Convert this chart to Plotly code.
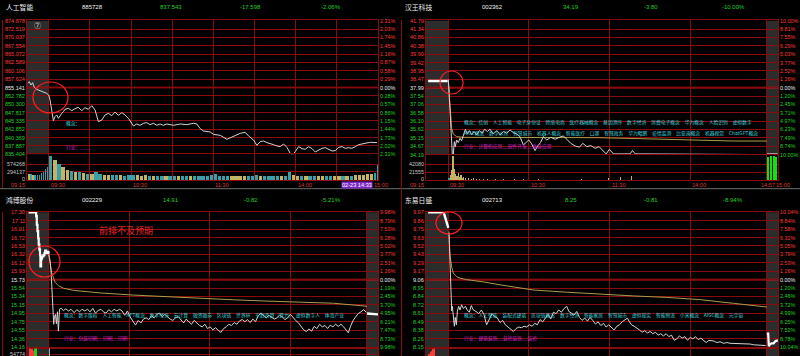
import numpy as np
import plotly.graph_objects as go

W, H = 800, 356

# ---------------- data ----------------
tl_head = ["人工智能", "885728", "837.543", "-17.598", "-2.06%"]
tr_head = ["汉王科技", "002362", "34.19", "-3.80", "-10.00%"]
bl_head = ["鸿博股份", "002229", "14.91", "-0.82", "-5.21%"]
br_head = ["东易日盛", "002713", "8.25", "-0.81", "-8.94%"]

tl_left = ["874.878", "872.519", "870.037", "867.554", "865.072", "862.589", "860.106", "857.624", "855.141",
           "852.782", "850.300", "847.817", "845.335", "842.852", "840.369", "837.887", "835.404"]
tl_right = ["2.31%", "2.03%", "1.74%", "1.45%", "1.16%", "0.87%", "0.58%", "0.29%", "0.00%",
            "0.28%", "0.57%", "0.86%", "1.15%", "1.44%", "1.73%", "2.02%", "2.31%"]
tr_left = ["41.79", "41.34", "40.86", "40.38", "39.90", "39.42", "38.95", "38.47", "37.99",
           "37.54", "37.06", "36.58", "36.10", "35.62", "35.15", "34.67", "34.19"]
tr_right = ["10.00%", "8.81%", "7.55%", "6.29%", "5.03%", "3.77%", "2.52%", "1.26%", "0.00%",
            "1.20%", "2.45%", "3.71%", "4.97%", "6.23%", "7.49%", "8.74%", "10.00%"]
bl_left = ["17.30", "17.11", "16.91", "16.72", "16.53", "16.32", "16.12", "15.93", "15.73",
           "15.54", "15.34", "15.15", "14.95", "14.75", "14.55", "14.36", "14.16"]
bl_right = ["9.98%", "8.79%", "7.53%", "6.28%", "5.02%", "3.77%", "2.51%", "1.26%", "0.00%",
            "1.19%", "2.45%", "3.70%", "4.95%", "6.21%", "7.47%", "8.73%", "9.98%"]
br_left = ["9.97", "9.86", "9.75", "9.63", "9.52", "9.43", "9.29", "9.17", "9.06",
           "8.95", "8.84", "8.72", "8.61", "8.49", "8.38", "8.26", "8.15"]
br_right = ["10.04%", "8.84%", "7.58%", "6.32%", "5.05%", "3.79%", "2.53%", "1.26%", "0.00%",
            "1.20%", "2.46%", "3.72%", "4.99%", "6.25%", "7.52%", "8.78%", "10.04%"]

# minute index: 0 = 09:15, 15 = 09:30, 135 = 11:30/13:00, 255 = 15:00 (252 = 14:57)
tl_line = [(0.0, 856.37), (0.9, 856.86), (2.1, 855.88), (3.3, 856.57), (4.5, 855.19), (6.2, 854.60), (8.7, 854.20),
           (11.1, 853.81), (13.5, 853.42), (15.0, 852.92), (16.0, 851.45), (17.2, 848.50), (18.4, 845.35),
           (19.6, 846.53), (20.8, 847.02), (22.1, 846.03), (23.3, 847.02), (24.5, 847.51), (25.7, 848.00),
           (26.9, 848.69), (29.3, 848.99), (31.8, 848.30), (34.2, 848.89), (36.6, 849.28), (39.1, 848.30),
           (41.5, 849.19), (43.9, 848.69), (46.4, 849.77), (48.8, 848.50), (51.2, 845.05), (53.7, 845.54),
           (56.1, 847.02), (58.5, 847.51), (61.0, 846.82), (63.4, 847.90), (65.8, 846.92), (68.3, 847.71),
           (70.7, 847.02), (73.1, 846.03), (75.5, 844.56), (76.8, 843.77), (79.2, 844.36), (81.6, 843.97),
           (84.1, 844.56), (86.5, 844.75), (88.9, 844.16), (91.4, 844.56), (93.8, 843.97), (96.2, 844.36),
           (98.6, 843.97), (101.1, 844.36), (105.9, 843.97), (110.8, 844.36), (115.7, 844.16), (120.5, 844.56),
           (123.0, 844.36), (125.4, 842.99), (127.8, 842.29), (132.7, 842.00), (135.1, 841.31), (140.0, 841.01),
           (144.9, 839.83), (147.3, 840.23), (149.7, 840.82), (152.1, 841.21), (154.6, 841.61), (158.2, 841.90),
           (160.7, 840.82), (164.3, 839.63), (166.7, 838.06), (169.2, 839.14), (171.6, 839.34), (174.0, 838.85),
           (176.5, 838.65), (178.9, 838.25), (181.3, 837.86), (183.8, 837.67), (186.2, 838.45), (188.6, 837.47),
           (191.0, 835.70), (192.8, 835.21), (194.7, 836.19), (197.1, 837.67), (199.6, 837.07), (202.0, 836.88),
           (204.4, 837.67), (206.9, 837.07), (209.3, 836.09), (211.7, 836.68), (214.2, 837.17), (216.6, 837.37),
           (219.0, 836.78), (221.5, 836.38), (223.9, 836.48), (226.3, 837.47), (228.8, 837.67), (231.2, 837.17),
           (233.6, 837.37), (236.0, 837.17), (238.5, 837.67), (240.9, 838.25), (243.3, 838.45), (245.8, 838.65),
           (249.4, 838.95), (254.3, 838.85)]
tl_vol = [(0.75, 215000), (2.25, 226000), (3.75, 204000), (5.25, 190000), (6.75, 190000), (8.25, 204000),
          (9.75, 240000), (11.25, 287000), (12.75, 383000), (14.25, 478000),
          (16.5, 873000), (19.5, 718000), (22.5, 574000), (25.5, 455000), (28.5, 359000), (31.5, 335000),
          (34.5, 299000), (37.5, 287000), (40.5, 263000), (43.5, 239000), (46.5, 215000), (49.5, 275000),
          (52.5, 215000), (55.5, 191000), (58.5, 203000), (61.5, 191000), (64.5, 179000), (67.5, 191000),
          (70.5, 167000), (73.5, 191000), (76.5, 203000), (79.5, 180000), (82.5, 168000), (85.5, 180000),
          (88.5, 155000), (91.5, 168000), (94.5, 156000), (97.5, 168000), (100.5, 144000), (103.5, 156000),
          (106.5, 144000), (109.5, 156000), (112.5, 144000), (115.5, 156000), (118.5, 144000), (121.5, 144000),
          (124.5, 156000), (127.5, 144000), (130.5, 156000), (133.5, 180000), (136.5, 239000), (139.5, 156000),
          (142.5, 144000), (145.5, 156000), (148.5, 144000), (151.5, 144000), (154.5, 156000), (157.5, 144000),
          (160.5, 156000), (163.5, 168000), (166.5, 180000), (169.5, 168000), (172.5, 156000), (175.5, 156000),
          (178.5, 144000), (181.5, 156000), (184.5, 144000), (187.5, 156000), (190.5, 275000), (193.5, 191000),
          (196.5, 168000), (199.5, 156000), (202.5, 156000), (205.5, 144000), (208.5, 156000), (211.5, 144000),
          (214.5, 156000), (217.5, 156000), (220.5, 168000), (223.5, 156000), (226.5, 168000), (229.5, 156000),
          (232.5, 168000), (235.5, 168000), (238.5, 180000), (241.5, 191000), (244.5, 203000), (247.5, 215000),
          (250.5, 239000), (253.0, 263000), (254.6, 539000)]
tl_vol_ticks = [294137, 574268]
tl_vol_labels = ["574268", "294137", "0"]

tr_pre = [(0.0, 38.37), (14.5, 38.37)]
tr_line = [(15.0, 38.46), (15.7, 37.29), (16.5, 35.78), (17.2, 34.64), (18.0, 34.19), (18.7, 34.19), (19.5, 34.93),
           (20.2, 34.64), (21.2, 35.02), (22.4, 34.87), (23.7, 35.12), (24.9, 34.98), (26.2, 35.31), (27.7, 35.63),
           (29.1, 35.36), (30.6, 35.55), (32.4, 35.31), (34.1, 35.50), (36.1, 35.31), (38.1, 35.55), (40.1, 35.40),
           (42.0, 35.63), (44.0, 35.50), (46.0, 35.63), (48.5, 35.36), (51.0, 35.55), (53.5, 35.31), (56.0, 35.50),
           (58.4, 35.40), (60.9, 35.59), (63.4, 35.44), (65.9, 35.36), (68.3, 35.21), (70.8, 34.74), (72.8, 34.87),
           (74.8, 35.02), (77.0, 34.80), (79.5, 34.42), (81.5, 34.68), (83.5, 34.87), (85.7, 35.21), (88.2, 35.02),
           (91.2, 35.17), (94.4, 35.06), (97.6, 35.17), (100.6, 35.25), (103.1, 35.06), (106.1, 34.83),
           (109.3, 34.68), (112.5, 34.61), (115.0, 34.83), (118.0, 34.64), (121.0, 34.70), (124.2, 34.55),
           (127.1, 34.64), (129.9, 34.42), (132.4, 34.23), (134.8, 34.49), (137.8, 34.23), (142.8, 34.23),
           (150.2, 34.23), (152.0, 34.42), (154.0, 34.23), (157.7, 34.23), (161.4, 34.23), (163.9, 34.19),
           (251.9, 34.19)]
tr_avg = [(15.0, 38.37), (16.2, 36.72), (17.5, 35.68), (18.7, 35.36), (21.2, 35.21), (26.2, 35.17), (53.5, 35.17),
          (90.7, 35.17), (127.9, 35.15), (165.1, 35.08), (202.3, 35.00), (227.1, 34.96), (251.9, 34.96)]
tr_close = [(252.0, 34.19), (260.1, 34.19)]
tr_limit_down = 34.19
tr_vol = [(2, 600), (5, 800), (8, 700), (11, 900), (14, 1500), (15.5, 6000), (16.5, 14000), (17.5, 26000),
          (18.5, 64000), (19.5, 30000), (20.5, 17000), (21.5, 12000), (22.5, 19000), (23.5, 9000), (24.5, 14000),
          (25.5, 7000), (26.5, 10000), (28, 6000), (30, 5000), (32, 4000), (34, 6000), (36, 3000), (38, 4500),
          (41, 2500), (44, 3500), (47, 2000), (50, 3000), (53, 2000), (56, 2500), (60, 1800), (64, 2200),
          (68, 1500), (71, 4000), (74, 2000), (78, 1500), (82, 2500), (86, 1500), (90, 1800), (95, 1200),
          (100, 1500), (105, 1200), (110, 1500), (114, 3500), (118, 1500), (122, 1200), (126, 1000), (130, 2000),
          (134, 6500), (138, 1200), (143, 8000), (147, 1500), (151.5, 11000), (155, 1000), (160, 800), (170, 600),
          (180, 500), (190, 500), (200, 400), (210, 400), (220, 400), (230, 400), (240, 400), (250, 400)]
tr_close_vol = [(253.0, 61000), (255.0, 64000), (257.0, 63000), (259.0, 62000)]
tr_vol_ticks = [21555, 42080]
tr_vol_labels = ["42080", "21555", "0"]

bl_pre = [(0.0, 17.30), (4.8, 17.30), (5.6, 17.21), (6.1, 17.01), (6.6, 16.86), (7.1, 16.70), (7.5, 16.55),
          (8.0, 16.43), (8.5, 16.30), (8.8, 16.04), (9.3, 16.22), (10.0, 16.27), (11.0, 16.30), (11.8, 16.35),
          (12.3, 16.41), (13.0, 16.35), (13.8, 16.38), (14.8, 16.33)]
bl_line = [(15.0, 16.32), (16.0, 16.16), (16.7, 15.93), (17.2, 15.62), (17.7, 15.15), (18.2, 14.76), (18.7, 14.69),
           (19.2, 14.86), (20.0, 14.92), (20.7, 14.70), (21.5, 14.98), (22.2, 14.53), (23.0, 15.04), (24.2, 15.06),
           (25.9, 15.01), (27.7, 15.05), (29.7, 15.00), (31.6, 15.04), (33.9, 14.96), (35.9, 15.03), (37.9, 14.98),
           (39.8, 15.04), (41.8, 15.00), (43.8, 15.04), (45.8, 14.98), (47.8, 15.06), (49.8, 14.95), (51.8, 15.01),
           (53.8, 15.04), (55.7, 14.98), (57.7, 14.95), (59.7, 15.03), (61.7, 14.98), (63.7, 15.04), (65.7, 15.00),
           (67.7, 15.04), (69.6, 15.00), (71.6, 14.90), (73.6, 15.00), (75.6, 14.86), (77.6, 14.75), (79.6, 14.67),
           (81.6, 14.78), (83.6, 14.72), (85.5, 14.81), (87.5, 14.84), (89.5, 14.80), (91.5, 14.89), (93.5, 14.84),
           (95.5, 14.92), (97.5, 14.95), (99.5, 14.86), (101.4, 14.92), (103.4, 14.86), (105.4, 14.81),
           (107.4, 14.78), (109.4, 14.84), (111.4, 14.87), (113.4, 14.78), (115.4, 14.72), (117.3, 14.81),
           (119.3, 14.75), (121.3, 14.69), (123.3, 14.78), (125.3, 14.72), (127.3, 14.66), (129.3, 14.63),
           (131.3, 14.69), (133.2, 14.59), (135.2, 14.63), (137.2, 14.56), (139.2, 14.61), (141.2, 14.55),
           (143.2, 14.50), (145.2, 14.59), (147.2, 14.63), (149.1, 14.69), (151.1, 14.66), (153.1, 14.73),
           (155.1, 14.69), (157.1, 14.77), (159.1, 14.80), (161.1, 14.75), (163.0, 14.80), (165.0, 14.73),
           (167.0, 14.81), (169.0, 14.75), (171.0, 14.89), (173.0, 14.95), (175.0, 14.90), (177.0, 14.84),
           (178.9, 14.90), (180.9, 14.86), (182.9, 14.81), (184.9, 14.84), (186.9, 14.90), (188.9, 14.86),
           (190.9, 14.80), (192.9, 14.84), (194.8, 14.92), (196.8, 14.86), (198.8, 14.78), (200.8, 14.73),
           (202.8, 14.64), (204.8, 14.56), (206.8, 14.52), (208.8, 14.58), (210.7, 14.53), (212.7, 14.64),
           (214.7, 14.59), (216.7, 14.69), (218.7, 14.63), (220.7, 14.66), (222.7, 14.59), (224.6, 14.67),
           (226.6, 14.63), (228.6, 14.69), (230.6, 14.64), (232.6, 14.69), (234.6, 14.63), (236.6, 14.56),
           (238.1, 14.49), (239.6, 14.63), (241.5, 14.77), (243.5, 14.86), (245.5, 14.94), (247.5, 14.98),
           (249.5, 15.03), (251.5, 14.97)]
bl_avg = [(15.0, 16.32), (16.0, 16.12), (17.2, 15.89), (18.5, 15.77), (19.7, 15.67), (22.2, 15.59), (25.9, 15.53),
          (33.4, 15.48), (53.3, 15.42), (78.1, 15.37), (102.9, 15.33), (127.8, 15.29), (152.6, 15.26),
          (177.5, 15.23), (202.3, 15.21), (227.1, 15.18), (252.0, 15.11)]
bl_close = [(252.0, 14.94), (260.2, 14.92)]
bl_vol = [(0.5, 75000, 1), (1.5, 72000, 1), (2.5, 68000, 1), (3.5, 64000, 1), (4.5, 88000, -1), (5.5, 76000, -1),
          (15.5, 150000, 0)]
bl_vol_ticks = [54774]
bl_vol_labels = ["54774"]

br_pre = [(0.0, 9.97), (11.3, 9.97), (12.0, 9.94), (12.8, 9.90), (13.5, 9.86), (14.3, 9.81), (15.0, 9.76)]
br_line = [(15.5, 9.69), (16.0, 9.40), (16.5, 8.95), (17.0, 8.70), (17.5, 8.64), (18.0, 8.70), (18.7, 8.50),
           (19.5, 8.43), (20.2, 8.55), (21.0, 8.45), (21.7, 8.63), (22.7, 8.70), (23.7, 8.65), (24.9, 8.72),
           (26.2, 8.67), (27.7, 8.70), (29.1, 8.65), (30.6, 8.62), (32.1, 8.71), (33.6, 8.65), (35.6, 8.63),
           (37.6, 8.60), (39.6, 8.65), (41.5, 8.59), (43.5, 8.45), (45.5, 8.53), (47.5, 8.60), (49.5, 8.56),
           (51.5, 8.54), (53.5, 8.48), (55.4, 8.51), (57.4, 8.45), (59.4, 8.42), (61.4, 8.40), (63.4, 8.36),
           (65.4, 8.40), (67.4, 8.42), (69.3, 8.41), (71.3, 8.43), (73.3, 8.42), (75.3, 8.45), (77.3, 8.43),
           (79.3, 8.47), (81.2, 8.45), (83.2, 8.52), (85.2, 8.49), (87.2, 8.54), (89.2, 8.59), (91.2, 8.53),
           (93.2, 8.62), (95.1, 8.60), (97.1, 8.65), (99.1, 8.62), (101.1, 8.67), (103.1, 8.70), (104.6, 8.63),
           (106.5, 8.61), (108.5, 8.58), (110.5, 8.63), (112.5, 8.55), (114.5, 8.51), (116.5, 8.54), (118.5, 8.50),
           (120.4, 8.55), (122.4, 8.51), (124.4, 8.46), (126.4, 8.49), (128.4, 8.44), (130.4, 8.47), (132.4, 8.42),
           (134.3, 8.45), (136.3, 8.41), (138.3, 8.38), (140.3, 8.43), (142.3, 8.45), (144.3, 8.49), (146.2, 8.52),
           (148.2, 8.54), (149.7, 8.49), (151.2, 8.45), (153.2, 8.43), (155.2, 8.41), (157.2, 8.38), (159.1, 8.35),
           (161.1, 8.37), (163.1, 8.34), (165.1, 8.36), (167.1, 8.33), (169.1, 8.35), (171.1, 8.31), (173.0, 8.33),
           (175.0, 8.30), (177.0, 8.33), (179.0, 8.29), (181.0, 8.31), (183.0, 8.24), (185.0, 8.26), (186.9, 8.30),
           (188.9, 8.27), (190.9, 8.29), (192.9, 8.24), (194.9, 8.28), (196.9, 8.26), (198.8, 8.29), (200.8, 8.25),
           (202.8, 8.27), (204.8, 8.24), (206.8, 8.21), (208.8, 8.24), (210.8, 8.24), (212.7, 8.23), (214.7, 8.21),
           (217.2, 8.22), (219.7, 8.20), (222.2, 8.21), (224.6, 8.20), (227.1, 8.20), (229.6, 8.19), (232.1, 8.20),
           (234.6, 8.19), (237.1, 8.19), (239.5, 8.19), (242.0, 8.18), (244.5, 8.18), (247.0, 8.18), (249.5, 8.17),
           (251.0, 8.17)]
br_avg = [(15.5, 9.71), (16.2, 9.40), (17.5, 9.23), (18.7, 9.15), (21.2, 9.10), (23.7, 9.08), (28.6, 9.06),
          (41.1, 9.03), (53.5, 8.99), (78.3, 8.92), (103.1, 8.89), (127.9, 8.86), (152.7, 8.84), (177.5, 8.82),
          (202.3, 8.79), (227.1, 8.74), (239.5, 8.72), (251.9, 8.69)]
br_close = [(251.9, 8.33), (252.9, 8.33), (253.4, 8.16), (253.9, 8.18), (255.4, 8.20), (256.9, 8.20), (258.4, 8.23),
            (260.1, 8.24)]
br_vol = [(0.5, 56000, 1), (1.5, 60000, 1), (2.5, 64000, 1), (3.5, 68000, 1), (4.5, 72000, 1), (15.5, 150000, 0)]

tl_concept = "概念："
tl_industry = "行业：____"
tr_concept1 = "概念：信创　人工智能　电子身份证　跨境电商　医疗器械概念　基因测序　数字经济　消费电子概念　华为概念　人脸识别　虚拟数字"
tr_concept2 = "AIGC概念　数字水印　智慧城市　机器人概念　智能医疗　口罩　智慧政务　华为鲲鹏　疫情监测　比亚迪概念　机器视觉　ChatGPT概念"
tr_industry = "行业：计算机应用__软件开发__垂直应用"
bl_concept = "概念：数字版权　人工智能　NFT概念　数字经济　云计算　融资融券　区块链　世界杯　东数西算（算力）　虚拟数字人　体育产业"
bl_industry = "行业：包装印刷__印刷__印刷"
br_concept = "概念：人工智能　装配式建筑　区块链概念　数字经济　智能家居　智慧城市　虚拟现实　智能物流　小米概念　AIGC概念　元宇宙"
br_industry = "行业：建筑装饰__装修装饰__装修"
bl_note = "前排不及预期"

tl_times = [("09:15", None), ("09:30", 15), ("10:30", 75), ("11:30", 135), ("14:00", 195), ("15:00", 255)]
tr_times = [("09:15", None), ("09:30", 15), ("10:30", 75), ("11:30", 135), ("14:00", 195), ("14:57", 252),
            ("15:00", 260.2)]
cursor_label, cursor_t = "02-23 14:33", 228

# ---------------- style ----------------
GRID = "#8a0b0b"
ZERO = "#d61212"
UPC = "#ff3a3a"
DNC = "#22d022"
WHITE = "#f0f0f0"
GRAY_BG = "#2c2c2c"
PRICE_C = "#d4d4d4"
AVG_C = "#ab9d4a"
KHAKI = "#c3b463"
TEAL = "#3b9fab"
CYAN = "#3ad2dc"
MAG = "#d424d4"
TIMEC = "#d83a3a"
NUMF = "Liberation Sans, Noto Sans CJK SC, sans-serif"
CJKF = "Noto Sans CJK SC, sans-serif"
TIME_Y = 185.3


def P(y):
    return 1 - y / H


def split(rows):
    cols = list(zip(*rows))
    return [list(c) for c in cols]


panels = [
    dict(head=tl_head, left=tl_left, right=tl_right, x0=27, x1=378, ptop=20.7, pbot=154.3, vtop=154.3,
         vbot=180.3, xr=(-0.8, 255.0), grid=[15, 45, 75, 105, 135, 165, 195, 225, 255], vr=(0, 916000),
         vt=tl_vol_ticks, hy=7.3, close_gray=False),
    dict(head=tr_head, left=tr_left, right=tr_right, x0=426, x1=778, ptop=20.7, pbot=154.6, vtop=155.0,
         vbot=180.3, xr=(-1.6, 260.2), grid=[15, 75, 135, 195, 252], vr=(0, 66540), vt=tr_vol_ticks, hy=7.3,
         close_gray=True),
    dict(head=bl_head, left=bl_left, right=bl_right, x0=27, x1=378, ptop=212.3, pbot=347.0, vtop=348.4,
         vbot=356, xr=(-1.2, 260.2), grid=[15, 75, 135, 195, 252], vr=(49800, 70000), vt=bl_vol_ticks,
         hy=199.7, close_gray=True),
    dict(head=br_head, left=br_left, right=br_right, x0=426, x1=778, ptop=212.3, pbot=347.0, vtop=348.4,
         vbot=356, xr=(-1.6, 260.2), grid=[15, 75, 135, 195, 252], vr=(49800, 70000), vt=[], hy=199.7,
         close_gray=True),
]

fig = go.Figure()
layout = dict(width=W, height=H, margin=dict(l=0, r=0, t=0, b=0), paper_bgcolor="black",
              plot_bgcolor="black", showlegend=False, font=dict(family=NUMF, color=WHITE))
shapes, annotations = [], []

for k, pn in enumerate(panels):
    np_, nv = 2 * k + 1, 2 * k + 2
    xn = "x" if np_ == 1 else f"x{np_}"
    yn = "y" if np_ == 1 else f"y{np_}"
    xv, yv = f"x{nv}", f"y{nv}"
    xk = "xaxis" if np_ == 1 else f"xaxis{np_}"
    yk = "yaxis" if np_ == 1 else f"yaxis{np_}"
    hi, lo = float(pn["left"][0]), float(pn["left"][-1])
    prev = float(pn["left"][8])
    span = hi - lo
    pad_px = 0.7
    pad_v = span * pad_px / (pn["pbot"] - pn["ptop"])
    levels = [hi - i * span / 16 for i in range(17)]
    xd = [pn["x0"] / W, pn["x1"] / W]
    common_x = dict(domain=xd, range=list(pn["xr"]), tickvals=pn["grid"], showgrid=True, gridcolor=GRID,
                    gridwidth=1, showticklabels=False, zeroline=False, showline=True, linecolor=GRID,
                    mirror=True, ticks="", fixedrange=True)
    layout[xk] = dict(common_x, anchor=yn)
    layout[yk] = dict(domain=[P(pn["pbot"] + pad_px), P(pn["ptop"] - pad_px)], range=[lo - pad_v, hi + pad_v],
                      tickvals=levels, showgrid=True, gridcolor=GRID, gridwidth=1, showticklabels=False,
                      zeroline=False, showline=True, linecolor=GRID, mirror=True, ticks="", anchor=xn,
                      fixedrange=True)
    layout[f"xaxis{nv}"] = dict(common_x, anchor=yv)
    layout[f"yaxis{nv}"] = dict(domain=[P(pn["vbot"]), P(pn["vtop"])], range=list(pn["vr"]),
                                tickvals=pn["vt"], showgrid=True, gridcolor=GRID, showticklabels=False,
                                zeroline=False, showline=True, linecolor=GRID, mirror=True, ticks="",
                                anchor=xv, fixedrange=True)

    # gray auction areas
    shapes.append(dict(type="rect", xref=xn, yref="paper", x0=pn["xr"][0], x1=15, y0=P(pn["vbot"]),
                       y1=P(pn["ptop"]), fillcolor=GRAY_BG, line=dict(width=0), layer="between"))
    if pn["close_gray"]:
        shapes.append(dict(type="rect", xref=xn, yref="paper", x0=252, x1=pn["xr"][1], y0=P(pn["vbot"]),
                           y1=P(pn["ptop"]), fillcolor=GRAY_BG, line=dict(width=0), layer="between"))
    # previous close line
    shapes.append(dict(type="line", xref="paper", yref=yn, x0=xd[0], x1=xd[1], y0=prev, y1=prev,
                       line=dict(color=ZERO, width=1.6), layer="between"))

    # axis labels
    for i in range(17):
        col = UPC if i < 8 else (WHITE if i == 8 else DNC)
        annotations.append(dict(text=pn["left"][i], xref="paper", yref=yn, x=(pn["x0"] - 1) / W, y=levels[i],
                                xanchor="right", yanchor="middle", showarrow=False, borderpad=0,
                                font=dict(size=5.5, color=col, family=NUMF)))
        annotations.append(dict(text=pn["right"][i], xref="paper", yref=yn, x=(pn["x1"] + 0.5) / W, y=levels[i],
                                xanchor="left", yanchor="middle", showarrow=False, borderpad=0,
                                font=dict(size=5.4, color=col, family=NUMF)))
    # header
    hx = 4 if pn["x0"] < 100 else 403
    annotations.append(dict(text=pn["head"][0], xref="paper", yref="paper", x=hx / W, y=P(pn["hy"]),
                            xanchor="left", yanchor="middle", showarrow=False,
                            font=dict(size=6.8, color=WHITE, family=CJKF)))
    base = 0 if pn["x0"] < 100 else 400
    for txt, cx, col in zip(pn["head"][1:], [92, 171, 251, 331], [WHITE, DNC, DNC, DNC]):
        cxx = cx if base == 0 else (cx + 400 if cx != 331 else 733)
        annotations.append(dict(text=txt, xref="paper", yref="paper", x=cxx / W, y=P(pn["hy"]),
                                xanchor="center", yanchor="middle", showarrow=False,
                                font=dict(size=6, color=col, family=NUMF)))

# ---- traces ----
def line(rows, xa, ya, color, width, shape="linear"):
    t, p = split(rows)
    fig.add_trace(go.Scatter(x=t, y=p, mode="lines", line=dict(color=color, width=width, shape=shape),
                             xaxis=xa, yaxis=ya, hoverinfo="skip"))


def vol_colors(vt, rows):
    t, p = split(rows)
    now = np.interp(vt, t, p)
    before = np.interp(np.array(vt) - 1.5, t, p)
    return [KHAKI if a >= b else TEAL for a, b in zip(now, before)]


# top-left index
line(tl_line, "x", "y", PRICE_C, 1.0)
vt, vv = split(tl_vol)
widths = [1.2 if t < 15 else (1.3 if t > 252 else 2.4) for t in vt]
fig.add_trace(go.Bar(x=vt, y=vv, width=widths, marker=dict(color=vol_colors(vt, tl_line), line=dict(width=0)),
                     xaxis="x2", yaxis="y2", hoverinfo="skip"))

# top-right
fig.add_trace(go.Scatter(x=[15.5, 260.2], y=[tr_limit_down, tr_limit_down], mode="lines",
                         line=dict(color="#f4f4f4", width=1.4), xaxis="x3", yaxis="y3", hoverinfo="skip"))
line(tr_avg, "x3", "y3", AVG_C, 1.0)
line(tr_line, "x3", "y3", PRICE_C, 1.0)
line(tr_pre, "x3", "y3", "#ffffff", 2.4)
line(tr_close, "x3", "y3", "#ffffff", 2.4)
vt, vv = split(tr_vol)
cols = ["#e04040" if t < 15 else c for t, c in zip(vt, vol_colors(vt, tr_line + tr_pre))]
fig.add_trace(go.Bar(x=vt, y=vv, width=0.9, marker=dict(color=cols, line=dict(width=0)),
                     xaxis="x4", yaxis="y4", hoverinfo="skip"))
vt, vv = split(tr_close_vol)
fig.add_trace(go.Bar(x=vt, y=vv, width=1.5, marker=dict(color="#12e012", line=dict(width=0)),
                     xaxis="x4", yaxis="y4", hoverinfo="skip"))

# bottom-left
line(bl_avg, "x5", "y5", AVG_C, 1.0)
line(bl_line, "x5", "y5", PRICE_C, 1.0)
line(bl_pre, "x5", "y5", "#ffffff", 2.2, "hv")
line(bl_close, "x5", "y5", "#ffffff", 2.4)
vt, vv, vd = split(bl_vol)
fig.add_trace(go.Bar(x=vt, y=vv, width=[1.0 if d else 0.6 for d in vd],
                     marker=dict(color=[UPC if d > 0 else (DNC if d < 0 else CYAN) for d in vd],
                                 line=dict(width=0)), xaxis="x6", yaxis="y6", hoverinfo="skip"))

# bottom-right
line(br_avg, "x7", "y7", AVG_C, 1.0)
line(br_line, "x7", "y7", PRICE_C, 1.0)
line(br_pre, "x7", "y7", "#ffffff", 2.4)
line(br_close, "x7", "y7", "#ffffff", 2.2)
vt, vv, vd = split(br_vol)
fig.add_trace(go.Bar(x=vt, y=vv, width=[1.0 if d else 0.6 for d in vd],
                     marker=dict(color=[UPC if d > 0 else (DNC if d < 0 else CYAN) for d in vd],
                                 line=dict(width=0)), xaxis="x8", yaxis="y8", hoverinfo="skip"))

# ---- volume labels ----
for labels, ya, xpx in [(tl_vol_labels, "y2", 26), (tr_vol_labels, "y4", 425), (bl_vol_labels, "y6", 26)]:
    for txt in labels:
        val = float(txt)
        annotations.append(dict(text=txt, xref="paper", yref=ya, x=xpx / W, y=val, xanchor="right",
                                yanchor="middle", yshift=1.5 if val == 0 else 0, showarrow=False, borderpad=0,
                                font=dict(size=5.4, color="#c8c8c8")))

# ---- time labels ----
for times, xa, xr in [(tl_times, "x2", panels[0]["xr"]), (tr_times, "x4", panels[1]["xr"])]:
    for txt, t in times:
        if t is None:
            annotations.append(dict(text=txt, xref=xa, yref="paper", x=xr[0], y=P(TIME_Y), xanchor="right",
                                    yanchor="middle", showarrow=False, xshift=-1, borderpad=0,
                                    font=dict(size=5.6, color=TIMEC)))
        elif txt in ("15:00", "14:57"):
            annotations.append(dict(text=txt, xref=xa, yref="paper", x=t, y=P(TIME_Y),
                                    xanchor="center" if txt == "14:57" else "left", yanchor="middle",
                                    showarrow=False, borderpad=0,
                                    xshift=(-5 if xa == "x2" else (1 if txt == "14:57" else -3)),
                                    font=dict(size=5.6, color=TIMEC)))
        else:
            annotations.append(dict(text=txt, xref=xa, yref="paper", x=t, y=P(TIME_Y), xanchor="left",
                                    yanchor="middle", showarrow=False, xshift=1, borderpad=0,
                                    font=dict(size=5.6, color=TIMEC)))
annotations.append(dict(text=cursor_label, xref="x2", yref="paper", x=cursor_t, y=P(TIME_Y), xanchor="left",
                        yanchor="middle", showarrow=False, bgcolor="#7b26c6", borderpad=0,
                        font=dict(size=5.6, color="#ffffff")))

# ---- concept / industry texts ----
for txt, x, y, col in [(tl_concept, 65, 122.7, CYAN), (tl_industry, 65, 146.7, MAG),
                       (tr_concept1, 463, 122.3, CYAN), (tr_concept2, 463, 133.3, CYAN),
                       (tr_industry, 463, 146.0, MAG),
                       (bl_concept, 63, 314.7, CYAN), (bl_industry, 63, 338.0, MAG),
                       (br_concept, 463, 314.7, CYAN), (br_industry, 463, 338.0, MAG)]:
    annotations.append(dict(text=txt, xref="paper", yref="paper", x=x / W, y=P(y), xanchor="left",
                            yanchor="middle", showarrow=False, borderpad=0,
                            font=dict(size=4.8, color=col, family=CJKF)))
annotations.append(dict(text=bl_note, xref="paper", yref="paper", x=126 / W, y=P(230.7), xanchor="center",
                        yanchor="middle", showarrow=False, font=dict(size=9, color="#e8262a", family=CJKF)))
annotations.append(dict(text="⑦", xref="paper", yref="paper", x=37 / W, y=P(25), xanchor="center",
                        yanchor="middle", showarrow=False, font=dict(size=7, color="#dddddd", family=CJKF)))

# ---- frame decorations and highlight circles ----
for (x0, x1, y0, y1) in [(33, 68, 82, 113), (440, 463, 71, 94), (29, 60, 246, 277), (436, 462, 212, 234)]:
    shapes.append(dict(type="circle", xref="paper", yref="paper", x0=x0 / W, x1=x1 / W, y0=P(y1), y1=P(y0),
                       line=dict(color="#ff2222", width=1.2)))
shapes.append(dict(type="line", xref="paper", yref="paper", x0=0, x1=1, y0=P(188.7), y1=P(188.7),
                   line=dict(color="#6e6e6e", width=1)))
for x, segs in [(2.5, [(20, 188), (212, 356)]), (401.5, [(20, 356)])]:
    for a, b in segs:
        shapes.append(dict(type="line", xref="paper", yref="paper", x0=x / W, x1=x / W, y0=P(a), y1=P(b),
                           line=dict(color=GRID, width=1)))

layout["shapes"] = shapes
layout["annotations"] = annotations
layout["bargap"] = 0
fig.update_layout(**layout)
fig.write_html("out.html", config={"displayModeBar": False, "staticPlot": True},
               post_script="document.body.style.margin='0';document.body.style.overflow='hidden';"
                           "document.body.style.background='black';")
